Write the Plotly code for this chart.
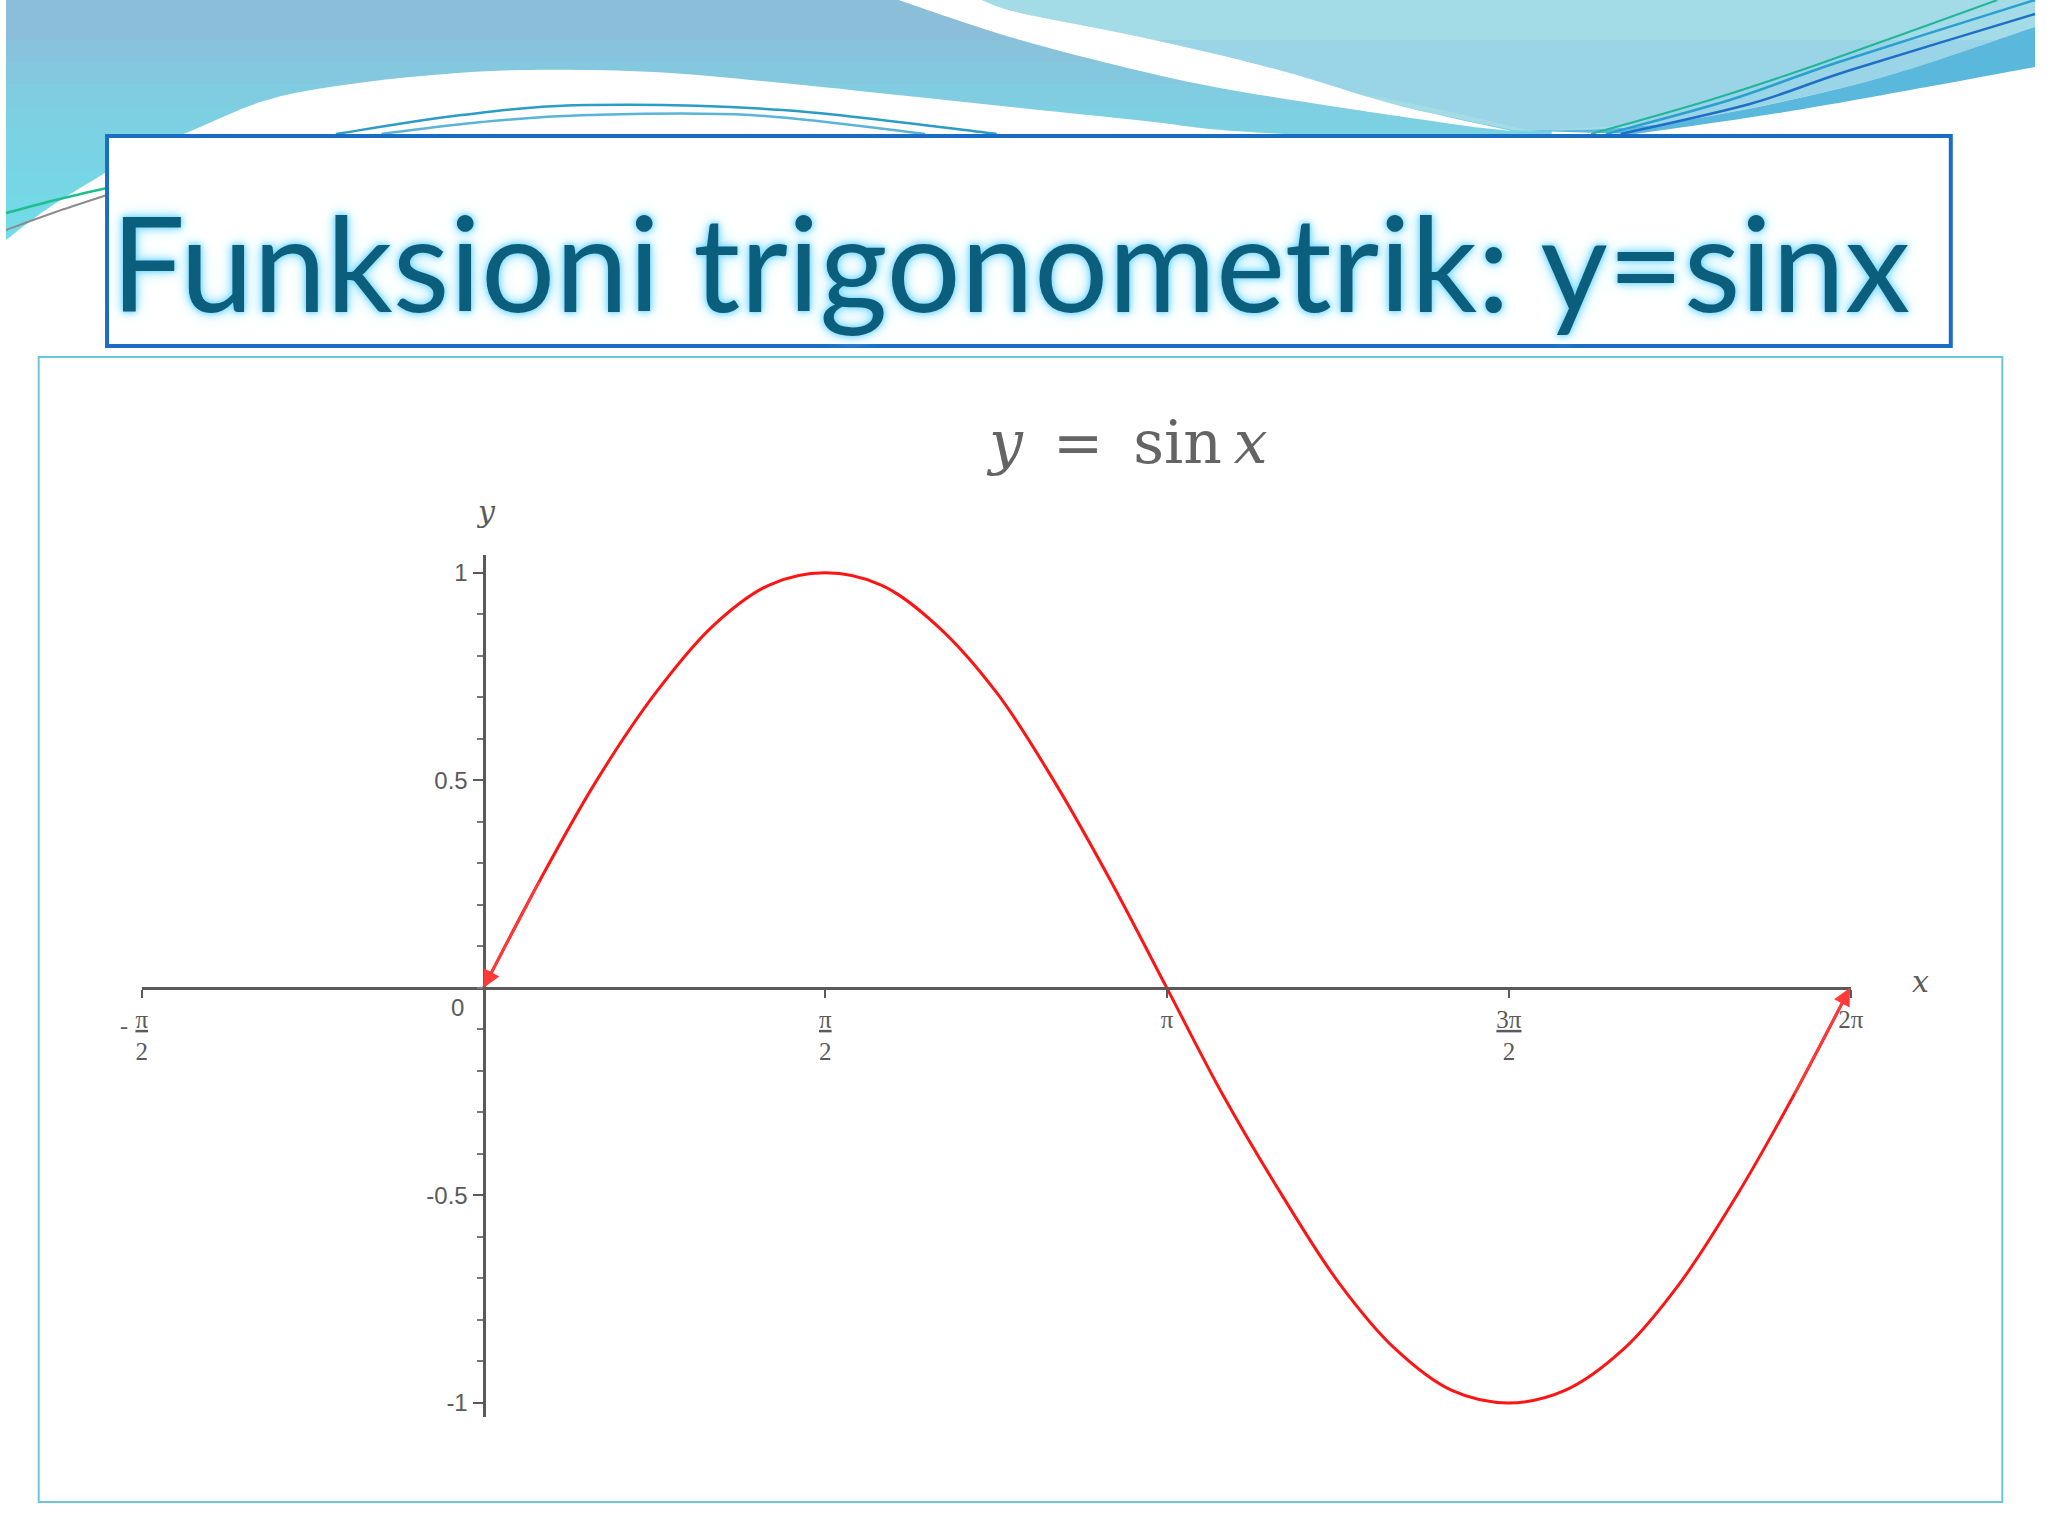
import plotly.graph_objects as go

# figure size in px, all decoration placed in pixel space and converted to paper
W, H = 2048, 1536

# curve y = sin x
x_vals = [0.0, 0.26, 0.52, 0.79, 1.05, 1.31, 1.57, 1.83, 2.09, 2.36, 2.62, 2.88, 3.14,
          3.40, 3.67, 3.93, 4.19, 4.45, 4.71, 4.97, 5.24, 5.50, 5.76, 6.02, 6.28]
y_vals = [0.0, 0.26, 0.5, 0.71, 0.87, 0.97, 1.0, 0.97, 0.87, 0.71, 0.5, 0.26, 0.0,
          -0.26, -0.5, -0.71, -0.87, -0.97, -1.0, -0.97, -0.87, -0.71, -0.5, -0.26, 0.0]

# axis ticks
x_range = [-1.5708, 6.2832]
x_ticks = [-1.5708, 1.5708, 3.1416, 4.7124, 6.2832]
x_ticktext = ["<u>π</u><br>2", "<u>π</u><br>2", "π", "<u>3π</u><br>2", "2π"]
y_range = [-1.034, 1.043]
y_ticks = [-1, -0.5, 0.5, 1]
y_ticktext = ["-1", "-0.5", "0.5", "1"]

slide_title = "Funksioni trigonometrik: y=sinx"
chart_title = "<i>y</i>\u2002=\u2002sin\u2009<i>x</i>"

GRAY = "#5a5a5a"


def px(x, y):
    return x / W, 1 - y / H


def smooth(pts):
    # catmull-rom -> cubic bezier, returns path pieces (without the first M)
    out = []
    for i in range(len(pts) - 1):
        p0 = pts[i - 1] if i > 0 else pts[i]
        p1, p2 = pts[i], pts[i + 1]
        p3 = pts[i + 2] if i + 2 < len(pts) else p2
        c1 = (p1[0] + (p2[0] - p0[0]) / 6, p1[1] + (p2[1] - p0[1]) / 6)
        c2 = (p2[0] - (p3[0] - p1[0]) / 6, p2[1] - (p3[1] - p1[1]) / 6)
        out.append("C " + " ".join("%.5f,%.5f" % px(*p) for p in (c1, c2, p2)))
    return out


def path(*chains, closed=True):
    s = []
    for k, ch in enumerate(chains):
        s.append(("M " if k == 0 else "L ") + "%.5f,%.5f" % px(*ch[0]))
        s += smooth(ch)
    return " ".join(s) + (" Z" if closed else "")


shapes = []


def deco(p, fill=None, line=None, width=0, opacity=1.0):
    shapes.append(dict(type="path", path=p, xref="paper", yref="paper", layer="below",
                       fillcolor=fill if fill else "rgba(0,0,0,0)", opacity=opacity,
                       line=dict(color=line if line else "rgba(0,0,0,0)", width=width)))


def box(x0, y0, x1, y1, fill, line, width):
    a, b = px(x0, y0)
    c, d = px(x1, y1)
    shapes.append(dict(type="rect", xref="paper", yref="paper", x0=a, y0=d, x1=c, y1=b,
                       fillcolor=fill, line=dict(color=line, width=width), layer="below"))


# top wave decoration
deco(path([(0, 0), (1560, 0)], [(1560, 260), (0, 260)]), fill="#8bbfd9")
for k in range(9):
    deco(path([(0, 40 + k * 22), (1560, 40 + k * 22)], [(1560, 260), (0, 260)]),
         fill="#6fe6f2", opacity=0.13)
deco(path([(0, 240), (40, 210), (85, 182), (130, 156), (196, 127), (260, 101), (327, 87),
           (420, 76), (522, 70), (653, 72), (784, 83), (900, 95), (1024, 108), (1150, 121),
           (1240, 131), (1420, 140)],
          [(1600, 140), (1600, 400), (0, 400)]), fill="white")
deco(path([(985, 0), (2048, 0)],
          [(2048, 27), (1873, 83), (1677, 123), (1540, 131)],
          [(1520, 130), (1400, 104), (1285, 70), (1150, 38), (1024, 13), (985, 0)]),
     fill="#a3dbe6")
deco(path([(1150, 60), (1400, 100), (1540, 131)],
          [(1677, 123), (1873, 83), (2048, 27)], [(2048, 40), (1150, 40)]),
     fill="#86c8e8", opacity=0.35)
deco(path([(901, 0), (985, 0)],
          [(985, 0), (1024, 13), (1150, 38), (1285, 70), (1400, 104), (1520, 131)],
          [(1481, 127), (1350, 108), (1220, 87), (1120, 65), (1024, 40), (960, 20), (901, 0)]),
     fill="white")
deco(path([(1540, 131), (1677, 123), (1873, 83), (2048, 27)],
          [(2048, 67), (1808, 110), (1644, 134)]), fill="#5bb8dd")
deco(path([(333, 134), (460, 115), (588, 105), (784, 110), (1000, 134)], closed=False),
     line="#2b9cc4", width=2.5)
deco(path([(379, 134), (480, 122), (588, 115), (751, 115), (928, 134)], closed=False),
     line="#5ab4d8", width=2.5)
deco(path([(0, 213), (50, 200), (102, 188)], closed=False), line="#1fbf8c", width=2.5)
deco(path([(0, 230), (50, 212), (102, 195)], closed=False), line="#8c8c8c", width=2)
deco(path([(1615, 134), (1740, 100), (1850, 62), (2048, 0)], closed=False), line="#2a9fd0", width=2.5)
deco(path([(1630, 134), (1760, 104), (1862, 70), (2048, 14)], closed=False), line="#1f6fc8", width=2.5)
deco(path([(1600, 134), (1720, 100), (1830, 64), (2010, 0)], closed=False), line="#22b59a", width=2)

# title box and chart frame
box(102, 136, 1963, 346, "white", "#1a6cc4", 4)
box(33, 357, 2015, 1502, "white", "#6ac6da", 2)

# plot area in pixels
xd = [137 / W, 1862 / W]
yd = [1 - 1417 / H, 1 - 555 / H]
ypos_for_yaxis = xd[0] + (0 - x_range[0]) / (x_range[1] - x_range[0]) * (xd[1] - xd[0])
xpos_for_xaxis = yd[0] + (0 - y_range[0]) / (y_range[1] - y_range[0]) * (yd[1] - yd[0])

fig = go.Figure()
fig.add_trace(go.Scatter(x=x_vals, y=y_vals, mode="lines",
                         line=dict(color="#ff1414", width=3, shape="spline"),
                         hoverinfo="skip", showlegend=False))

annotations = [
    dict(text=slide_title, xref="paper", yref="paper", x=px(104, 0)[0], y=px(0, 262)[1],
         xanchor="left", yanchor="middle", showarrow=False,
         font=dict(family="Lato", size=131, color="#0b5e7c",
                   shadow="0px 0px 5px #6fd4ff, 0px 0px 10px #8fe0ff, 0px 0px 16px #b0ecff")),
    dict(text=chart_title, xref="paper", yref="paper", x=px(1131, 0)[0], y=px(0, 442)[1],
         xanchor="center", yanchor="middle", showarrow=False,
         font=dict(family="DejaVu Serif", size=60, color="#646464")),
    dict(text="0", x=0, y=0, xref="x", yref="y", xanchor="right", yanchor="top",
         xshift=-18, yshift=-4, showarrow=False,
         font=dict(family="Liberation Sans", size=24, color=GRAY)),
    dict(text="-", x=x_ticks[0], y=0, xref="x", yref="y", xanchor="right", yanchor="middle",
         xshift=-12, yshift=-38, showarrow=False,
         font=dict(family="Liberation Serif", size=24, color=GRAY)),
    dict(text="<i>x</i>", x=x_ticks[-1], y=0, xref="x", yref="y", xanchor="center",
         yanchor="middle", xshift=70, yshift=6, showarrow=False,
         font=dict(family="DejaVu Serif", size=30, color=GRAY)),
    dict(text="<i>y</i>", x=0, y=y_range[1], xref="x", yref="y", xanchor="center",
         yanchor="bottom", xshift=2, yshift=24, showarrow=False,
         font=dict(family="DejaVu Serif", size=30, color=GRAY)),
    # arrowheads at both ends of the curve
    dict(x=x_vals[0], y=y_vals[0], ax=x_vals[1], ay=y_vals[1], xref="x", yref="y",
         axref="x", ayref="y", showarrow=True, arrowhead=2, arrowsize=1.4,
         arrowwidth=2.5, arrowcolor="#ff3a3a", standoff=0, text=""),
    dict(x=x_vals[-1], y=y_vals[-1], ax=x_vals[-2], ay=y_vals[-2], xref="x", yref="y",
         axref="x", ayref="y", showarrow=True, arrowhead=2, arrowsize=1.4,
         arrowwidth=2.5, arrowcolor="#ff3a3a", standoff=0, text=""),
]

fig.update_layout(
    width=W, height=H, autosize=False,
    margin=dict(l=0, r=0, t=0, b=0),
    paper_bgcolor="white", plot_bgcolor="rgba(0,0,0,0)",
    shapes=shapes, annotations=annotations, showlegend=False,
    xaxis=dict(domain=xd, range=x_range, anchor="free", position=xpos_for_xaxis,
               showline=True, linecolor=GRAY, linewidth=3, showgrid=False, zeroline=False,
               tickmode="array", tickvals=x_ticks, ticktext=x_ticktext,
               ticks="outside", ticklen=8, tickwidth=2, tickcolor=GRAY,
               tickfont=dict(family="Liberation Serif", size=25, color=GRAY)),
    yaxis=dict(domain=yd, range=y_range, anchor="free", position=ypos_for_yaxis,
               showline=True, linecolor=GRAY, linewidth=3, showgrid=False, zeroline=False,
               tickmode="array", tickvals=y_ticks, ticktext=y_ticktext,
               ticks="outside", ticklen=10, tickwidth=2, tickcolor=GRAY,
               tickfont=dict(family="Liberation Sans", size=24, color=GRAY),
               minor=dict(tickmode="linear", tick0=0, dtick=0.1, ticks="outside",
                          ticklen=6, tickwidth=2, tickcolor="#777777")),
)

# no body margin, so the figure sits at the page corner
fig.write_html("out.html", config={"displayModeBar": False},
               post_script="document.body.style.margin='0';document.body.style.overflow='hidden';")
